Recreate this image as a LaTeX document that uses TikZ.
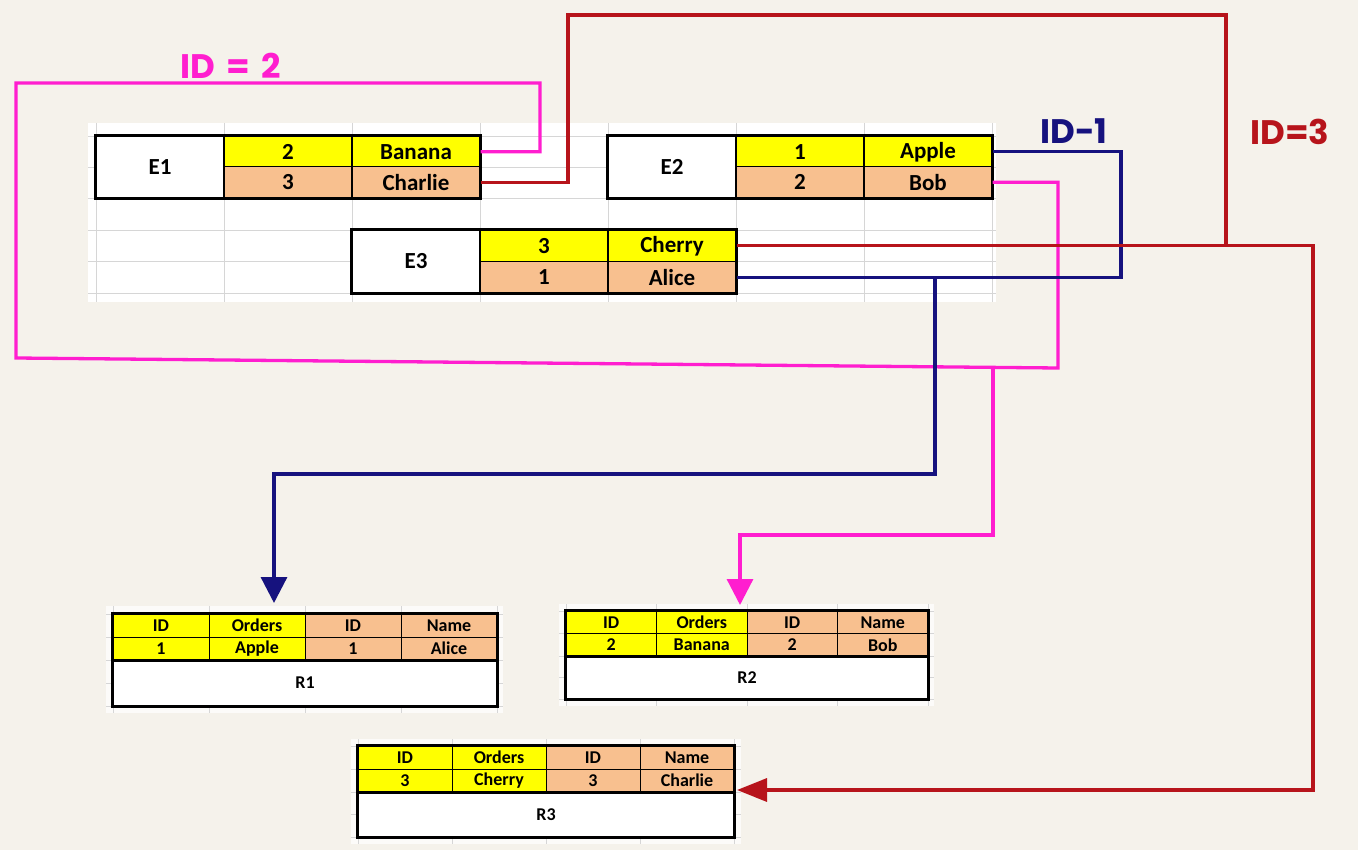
\documentclass[tikz,border=0pt]{standalone}
\usepackage{fontspec}
\setmainfont{Carlito}
\newfontfamily\handfont{Poppins}
\usetikzlibrary{arrows.meta}

\definecolor{paper}{HTML}{F5F2EB}
\definecolor{cellyellow}{HTML}{FFFF00}
\definecolor{cellpeach}{HTML}{F8C08F}
\definecolor{gridgray}{HTML}{D6D6D6}
\definecolor{linkpink}{HTML}{FF1ECF}
\definecolor{linkblue}{HTML}{16127E}
\definecolor{linkred}{HTML}{B7141B}

\begin{document}
\begin{tikzpicture}[x=1pt,y=1pt,yscale=-1,
  gridline/.style={draw=gridgray,line width=0.9pt},
  ecell/.style={draw=black,line width=1.1pt,inner sep=0pt,minimum width=128,minimum height=31.5,font=\bfseries\fontsize{23}{25}\selectfont},
  rcell/.style={draw=black,line width=0.9pt,inner sep=0pt,minimum height=23,font=\bfseries\fontsize{18}{19}\selectfont},
  frame/.style={draw=black,line width=2.2pt},
  link/.style={line width=3.3pt},
  tip/.style={-{Triangle[width=26pt,length=26pt]}},
  hand/.style={inner sep=0pt,font=\handfont\bfseries\fontsize{34}{36}\selectfont}]
\useasboundingbox (0,0) rectangle (1358,850);
\fill[paper] (0,0) rectangle (1358,850);

% sheet behind E tables
\fill[white] (88,123) rectangle (996,302);
\foreach \gx in {96,224,...,992} \draw[gridline] (\gx,123) -- (\gx,302);
\foreach \gy in {136,167,198,230,261.5,293} \draw[gridline] (88,\gy) -- (996,\gy);

% E1
\node[ecell,fill=white,minimum height=62] (e1) at (160,167) {E1};
\node[ecell,fill=cellyellow] (e1id1) at (288,151.75) {2};
\node[ecell,fill=cellyellow] (e1nm1) at (416,151.75) {Banana};
\node[ecell,fill=cellpeach] (e1id2) at (288,182.25) {3};
\node[ecell,fill=cellpeach] (e1nm2) at (416,182.25) {Charlie};
\draw[frame] (e1.north west) rectangle (e1nm2.south east);

% E2
\node[ecell,fill=white,minimum height=62] (e2) at (672,167) {E2};
\node[ecell,fill=cellyellow] (e2id1) at (800,151.75) {1};
\node[ecell,fill=cellyellow] (e2nm1) at (928,151.75) {Apple};
\node[ecell,fill=cellpeach] (e2id2) at (800,182.25) {2};
\node[ecell,fill=cellpeach] (e2nm2) at (928,182.25) {Bob};
\draw[frame] (e2.north west) rectangle (e2nm2.south east);

% E3
\node[ecell,fill=white,minimum height=63] (e3) at (416,261.5) {E3};
\node[ecell,fill=cellyellow] (e3id1) at (544,245.75) {3};
\node[ecell,fill=cellyellow] (e3nm1) at (672,245.75) {Cherry};
\node[ecell,fill=cellpeach] (e3id2) at (544,277.25) {1};
\node[ecell,fill=cellpeach] (e3nm2) at (672,277.25) {Alice};
\draw[frame] (e3.north west) rectangle (e3nm2.south east);

% R1
\fill[white,opacity=0.7] (106,606) rectangle (503,713);
\foreach \gx in {113,209,305,401,497} \draw[gridline] (\gx,606) -- (\gx,713);
\foreach \gy in {614,637,660,683,706} \draw[gridline] (106,\gy) -- (503,\gy);
\node[rcell,fill=cellyellow,minimum width=96] (r1h1) at (161,625.5) {ID};
\node[rcell,fill=cellyellow,minimum width=96] (r1h2) at (257,625.5) {Orders};
\node[rcell,fill=cellpeach,minimum width=96] (r1h3) at (353,625.5) {ID};
\node[rcell,fill=cellpeach,minimum width=96] (r1h4) at (449,625.5) {Name};
\node[rcell,fill=cellyellow,minimum width=96] (r1v1) at (161,648.5) {1};
\node[rcell,fill=cellyellow,minimum width=96] (r1v2) at (257,648.5) {Apple};
\node[rcell,fill=cellpeach,minimum width=96] (r1v3) at (353,648.5) {1};
\node[rcell,fill=cellpeach,minimum width=96] (r1v4) at (449,648.5) {Alice};
\node[rcell,fill=white,minimum width=384,minimum height=46] (r1) at (305,683) {R1};
\draw[frame] (r1h1.north west) rectangle (r1.south east);
\draw[frame] (r1v1.south west) -- (r1v4.south east);

% R2
\fill[white,opacity=0.7] (559,604) rectangle (934,706);
\foreach \gx in {566,656.5,747,837.5,928} \draw[gridline] (\gx,604) -- (\gx,706);
\foreach \gy in {611,633.5,656,677.5,699} \draw[gridline] (559,\gy) -- (934,\gy);
\node[rcell,fill=cellyellow,minimum width=90.5,minimum height=22.5] (r2h1) at (611.25,622.25) {ID};
\node[rcell,fill=cellyellow,minimum width=90.5,minimum height=22.5] (r2h2) at (701.75,622.25) {Orders};
\node[rcell,fill=cellpeach,minimum width=90.5,minimum height=22.5] (r2h3) at (792.25,622.25) {ID};
\node[rcell,fill=cellpeach,minimum width=90.5,minimum height=22.5] (r2h4) at (882.75,622.25) {Name};
\node[rcell,fill=cellyellow,minimum width=90.5,minimum height=22.5] (r2v1) at (611.25,644.75) {2};
\node[rcell,fill=cellyellow,minimum width=90.5,minimum height=22.5] (r2v2) at (701.75,644.75) {Banana};
\node[rcell,fill=cellpeach,minimum width=90.5,minimum height=22.5] (r2v3) at (792.25,644.75) {2};
\node[rcell,fill=cellpeach,minimum width=90.5,minimum height=22.5] (r2v4) at (882.75,644.75) {Bob};
\node[rcell,fill=white,minimum width=362,minimum height=43] (r2) at (747,677.5) {R2};
\draw[frame] (r2h1.north west) rectangle (r2.south east);
\draw[frame] (r2v1.south west) -- (r2v4.south east);

% R3
\fill[white,opacity=0.7] (351,739) rectangle (741,844);
\foreach \gx in {358,452,546,640,734} \draw[gridline] (\gx,739) -- (\gx,844);
\foreach \gy in {746,769,792,814.5,837} \draw[gridline] (351,\gy) -- (741,\gy);
\node[rcell,fill=cellyellow,minimum width=94] (r3h1) at (405,757.5) {ID};
\node[rcell,fill=cellyellow,minimum width=94] (r3h2) at (499,757.5) {Orders};
\node[rcell,fill=cellpeach,minimum width=94] (r3h3) at (593,757.5) {ID};
\node[rcell,fill=cellpeach,minimum width=94] (r3h4) at (687,757.5) {Name};
\node[rcell,fill=cellyellow,minimum width=94] (r3v1) at (405,780.5) {3};
\node[rcell,fill=cellyellow,minimum width=94] (r3v2) at (499,780.5) {Cherry};
\node[rcell,fill=cellpeach,minimum width=94] (r3v3) at (593,780.5) {3};
\node[rcell,fill=cellpeach,minimum width=94] (r3v4) at (687,780.5) {Charlie};
\node[rcell,fill=white,minimum width=376,minimum height=45] (r3) at (546,814.5) {R3};
\draw[frame] (r3h1.north west) rectangle (r3.south east);
\draw[frame] (r3v1.south west) -- (r3v4.south east);

% bends
\coordinate (pinkTop) at (540,83);
\coordinate (pinkLow) at (16,358);
\coordinate (pinkJoin) at (1058,368);
\coordinate (pinkFork) at (993,367.4);
\coordinate (pinkBend) at (993,535);
\coordinate (r2in) at (740,605);
\coordinate (blueCorner) at (1121,277.25);
\coordinate (blueFork) at (935,277.25);
\coordinate (blueBend) at (935,474);
\coordinate (r1in) at (274,603);
\coordinate (redUp) at (568,15);
\coordinate (redDrop) at (1226,245.75);
\coordinate (redCorner) at (1313,790);
\coordinate (r3in) at (737,790);

% Connection
\draw[link,linkpink] (e1nm1.east) -| (pinkTop) -| (pinkLow) -- (pinkJoin) |- (e2nm2.east);
% Connection
\draw[link,linkpink,tip] (pinkFork) -- (pinkBend) -| (r2in);
% Connection
\draw[link,linkblue] (e2nm1.east) -| (blueCorner) -- (e3nm2.east);
% Connection
\draw[link,linkblue,tip] (blueFork) -- (blueBend) -| (r1in);
% Connection
\draw[link,linkred] (e1nm2.east) -| (redUp) -| (redDrop);
% Connection
\draw[link,linkred,-{Triangle[width=23pt,length=30pt]}] (e3nm1.east) -| (redCorner) -- (r3in);

% Text Node
\node[hand,text=linkpink] (idtwo) at (231,66) {ID\,\,=\,\,2};
% Text Node
\node[hand,text=linkblue] (idone) at (1074,131) {ID-1};
% Text Node
\node[hand,text=linkred] (idthree) at (1290,132) {ID=3};

\end{tikzpicture}
\end{document}
